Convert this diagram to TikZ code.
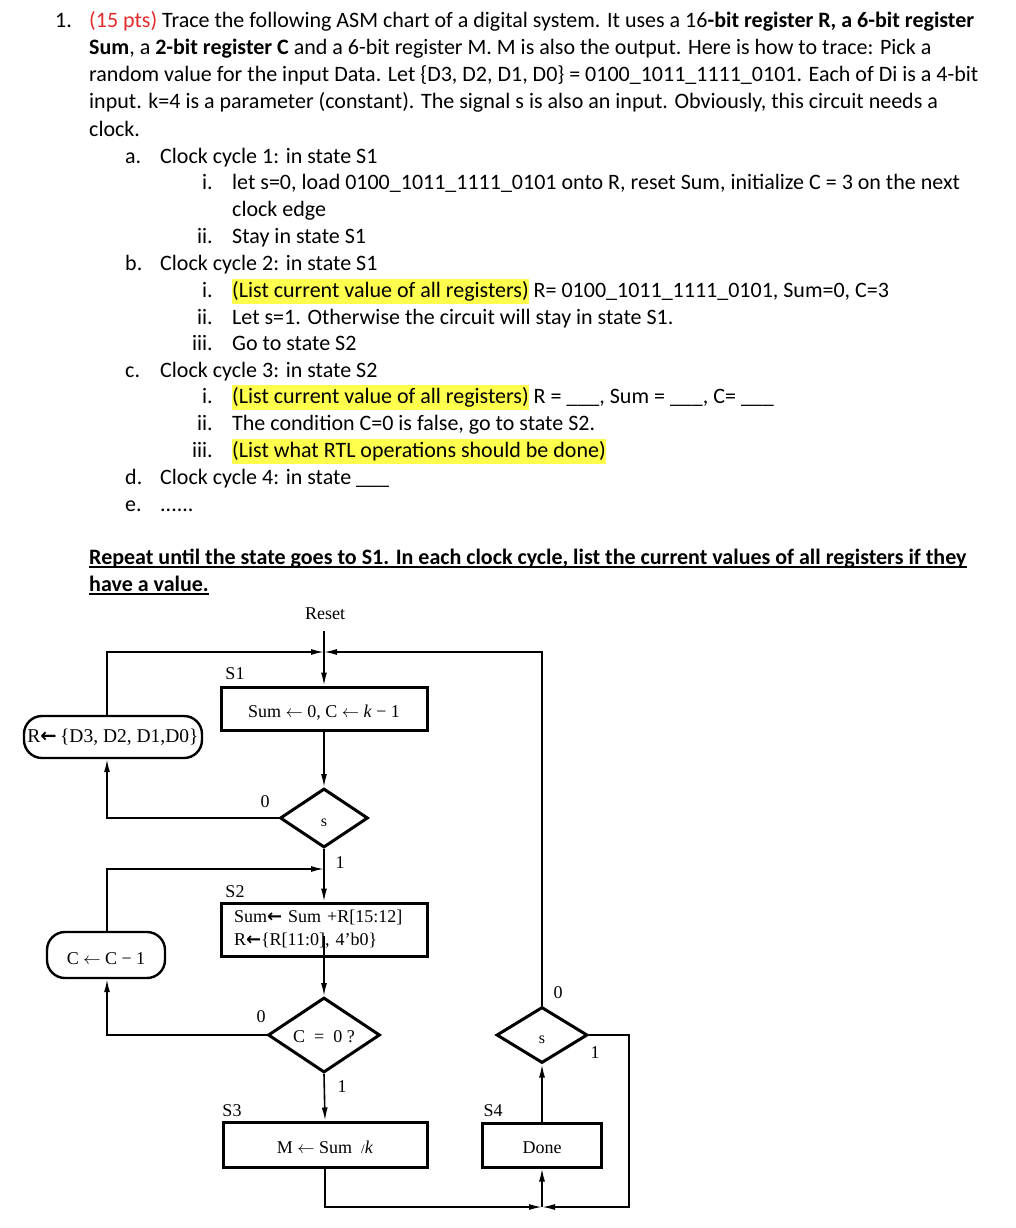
\documentclass[tikz,border=0pt]{standalone}
\usepackage{fontspec}
\setmainfont{Carlito}
\newfontfamily\asmfont{Liberation Serif}
\newfontfamily\arrowfont{DejaVu Sans}
\usetikzlibrary{arrows.meta,shapes.geometric}
\definecolor{hlyellow}{HTML}{FFFF4D}
\definecolor{ptsred}{HTML}{E32B2B}
\newcommand{\hl}[1]{{\setlength{\fboxsep}{0pt}\colorbox{hlyellow}{\rule[-7pt]{0pt}{25pt}#1}}}
\newcommand{\barrow}{{\arrowfont\bfseries ←}}
% sink a label a little without changing the box the node centres
\newcommand{\low}[2][3pt]{\raisebox{-#1}[\height][\depth]{#2}}
\tikzset{
  % question text: every line is its own node, set on its baseline
  body/.style     = {anchor=base west, inner sep=0pt, yshift=-2pt,
                     font=\fontsize{22}{26}\selectfont},
  enum/.style     = {anchor=base east, inner sep=0pt, yshift=-2pt,
                     font=\fontsize{22}{26}\selectfont},
  uline/.style    = {line width=1.4pt, black},
  % ASM chart
  asmlbl/.style   = {inner sep=1pt, font=\asmfont\fontsize{18}{21}\selectfont},
  statebox/.style = {draw, line width=3pt, inner sep=2pt,
                     font=\asmfont\fontsize{18}{21}\selectfont},
  condbox/.style  = {draw, line width=2.4pt, rounded corners=18pt, inner sep=2pt,
                     font=\asmfont\fontsize{18}{21}\selectfont},
  decision/.style = {draw, diamond, aspect=1.5, line width=3pt, inner sep=0pt,
                     font=\asmfont\fontsize{18}{21}\selectfont},
  flow/.style     = {line width=1.6pt, -{Latex[length=13pt,width=6pt]}},
}

\begin{document}
\begin{tikzpicture}[x=1pt, y=-1pt]
    \useasboundingbox[fill=white] (0,0) rectangle (1016,1228);

    % the question
    \node[body] (n1) at (55,26) {1.};
    \node[body] (q1) at (89,26) {\textcolor{ptsred}{(15 pts)} Trace the following ASM chart of a digital system. It uses a 16\textbf{-bit register R, a 6-bit register}};
    \node[body] (q2) at (89,53) {\textbf{Sum}, a \textbf{2-bit register C} and a 6-bit register M. M is also the output. Here is how to trace: Pick a};
    \node[body] (q3) at (89,80) {random value for the input Data. Let \{D3, D2, D1, D0\} = 0100\_1011\_1111\_0101. Each of Di is a 4-bit};
    \node[body] (q4) at (89,107) {input. k=4 is a parameter (constant). The signal s is also an input. Obviously, this circuit needs a};
    \node[body] (q5) at (89,134) {clock.};

    \node[body] (na) at (125,161) {a.};
    \node[body] (qa) at (160,161) {Clock cycle 1: in state S1};
    \node[enum] (nai) at (213,187) {i.};
    \node[body] (qai) at (232,187) {let s=0, load 0100\_1011\_1111\_0101 onto R, reset Sum, initialize C = 3 on the next};
    \node[body] (qai2) at (232,214) {clock edge};
    \node[enum] (naii) at (213,241) {ii.};
    \node[body] (qaii) at (232,241) {Stay in state S1};

    \node[body] (nb) at (125,268) {b.};
    \node[body] (qb) at (160,268) {Clock cycle 2: in state S1};
    \node[enum] (nbi) at (213,295) {i.};
    \node[body] (qbi) at (232,295) {\hl{(List current value of all registers)} R= 0100\_1011\_1111\_0101, Sum=0, C=3};
    \node[enum] (nbii) at (213,322) {ii.};
    \node[body] (qbii) at (232,322) {Let s=1. Otherwise the circuit will stay in state S1.};
    \node[enum] (nbiii) at (213,348) {iii.};
    \node[body] (qbiii) at (232,348) {Go to state S2};

    \node[body] (nc) at (125,375) {c.};
    \node[body] (qc) at (160,375) {Clock cycle 3: in state S2};
    \node[enum] (nci) at (213,401) {i.};
    \node[body] (qci) at (232,401) {\hl{(List current value of all registers)} R = \_\_\_, Sum = \_\_\_, C= \_\_\_};
    \node[enum] (ncii) at (213,428) {ii.};
    \node[body] (qcii) at (232,428) {The condition C=0 is false, go to state S2.};
    \node[enum] (nciii) at (213,455) {iii.};
    \node[body] (qciii) at (232,455) {\hl{(List what RTL operations should be done)}};

    \node[body] (nd) at (125,482) {d.};
    \node[body] (qd) at (160,482) {Clock cycle 4: in state \_\_\_};
    \node[body] (ne) at (125,509) {e.};
    \node[body] (qe) at (160,509) {......};

    \node[body] (rp1) at (89,562) {\textbf{Repeat until the state goes to S1. In each clock cycle, list the current values of all registers if they}};
    \node[body] (rp2) at (89,589) {\textbf{have a value.}};
    \draw[uline] ([yshift=-3pt]rp1.base west) -- ([yshift=-3pt]rp1.base east);
    \draw[uline] ([yshift=-3pt]rp2.base west) -- ([yshift=-3pt]rp2.base east);

    % ASM chart
    \node[asmlbl] (reset) at (325,614) {Reset};
    \coordinate (rst)  at (324,631);
    \coordinate (jtop) at (324,652);
    \coordinate (jmid) at (324,869);
    \coordinate (jbot) at (542,1207);
    \coordinate (lft)  at (107,652);
    \coordinate (rgt)  at (629,1207);
    \coordinate (s2x)  at (324,936);

    \node[statebox, minimum width=206pt, minimum height=43pt] (s1) at (324,708.5)
        {\low[4pt]{Sum $\leftarrow$ 0, C $\leftarrow$ \textit{k} − 1}};
    \node[asmlbl] (s1name) at (235,674) {S1};
    \node[condbox, minimum width=178pt, minimum height=42pt, inner xsep=0pt,
          font=\asmfont\fontsize{19.5}{22}\selectfont] (rload) at (113,737)
        {R\barrow\,\{D3, D2, D1,D0\}};
    \node[decision, minimum width=88pt, minimum height=59pt,
          font=\asmfont\fontsize{16}{18}\selectfont] (d1) at (324,818) {\low[5pt]{s}};

    \node[statebox, minimum width=206pt, minimum height=53pt, text width=180pt,
          inner xsep=13pt, align=left] (s2) at (324,929.5)
        {Sum\barrow{} Sum +R[15:12]\\[2pt]R\barrow\{R[11:0], 4’b0\}};
    \node[asmlbl] (s2name) at (235,892) {S2};
    \node[condbox, minimum width=118pt, minimum height=46pt] (cdec) at (106,955)
        {\low[4pt]{C $\leftarrow$ C − 1}};
    \node[decision, minimum width=112pt, minimum height=75pt] (d2) at (324,1035)
        {\low[2pt]{C\enspace=\enspace0 ?}};

    \node[statebox, minimum width=204pt, minimum height=45pt] (s3) at (325,1144.5)
        {\low{M $\leftarrow$ Sum\enspace{\fontsize{13}{13}\selectfont /}\textit{k}}};
    \node[asmlbl] (s3name) at (232,1111) {S3};
    \node[statebox, minimum width=119pt, minimum height=44pt] (s4) at (542,1145)
        {\low{Done}};
    \node[asmlbl] (s4name) at (493,1111) {S4};
    \node[decision, minimum width=91pt, minimum height=56pt,
          font=\asmfont\fontsize{16}{18}\selectfont] (d3) at (542,1035) {\low[5pt]{s}};

    % connectors
    \draw[flow] (rst) -- (s1.north);
    \draw[flow] (rload.north -| lft) |- (jtop);
    \draw[flow] (d3.north) |- (jtop);
    \draw[flow] (s1) -- (d1);
    \draw[flow] (d1.west) -| (rload.south -| lft);
    \draw[flow] (d1.south) -- (s2.north);
    \draw[flow] (cdec.north -| lft) |- (jmid);
    \draw[flow] (s2x) -- (d2.north);
    \draw[flow] (d2.west) -| (cdec.south -| lft);
    \draw[flow] (d2.south) -- (s3.north);
    \draw[flow] (s3.south) |- (jbot);
    \draw[flow] (d3.east) -| (rgt) -- (jbot);
    \draw[flow] (jbot) -- (s4.south);
    \draw[flow] (s4.north) -- (d3.south);

    % branch values
    \node[asmlbl] (d1no)  at (265,802)  {0};
    \node[asmlbl] (d1yes) at (340,863)  {1};
    \node[asmlbl] (d2no)  at (261,1017) {0};
    \node[asmlbl] (d2yes) at (342,1087) {1};
    \node[asmlbl] (d3no)  at (558,993)  {0};
    \node[asmlbl] (d3yes) at (595,1053) {1};
\end{tikzpicture}
\end{document}
